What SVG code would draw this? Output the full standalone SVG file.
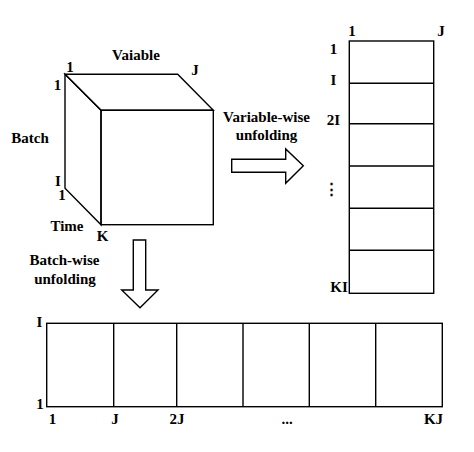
<svg xmlns="http://www.w3.org/2000/svg" width="474" height="452" viewBox="0 0 474 452">
<style>
.l{fill:none;stroke:#000;stroke-width:1.4;stroke-linejoin:miter}
text{font-family:"Liberation Serif","Times New Roman",serif;font-weight:bold;font-size:15px;fill:#000}
.m{text-anchor:middle}
</style>
<rect width="474" height="452" fill="#fff"/>
<g id="cube">
<polygon class="l" points="65,74.3 177.7,74.3 213.3,110.3 101,110.3"/>
<polygon class="l" points="65,74.3 101,110.3 101,224.7 65,188.3"/>
<rect class="l" x="101" y="110.3" width="112.3" height="114.4"/>
<text class="m" x="136" y="60">Vaiable</text>
<text class="m" x="70" y="71.5">1</text>
<text class="m" x="195" y="75">J</text>
<text class="m" x="57.5" y="90">1</text>
<text class="m" x="30" y="143">Batch</text>
<text class="m" x="58" y="185.5">I</text>
<text class="m" x="62" y="200">1</text>
<text class="m" x="67" y="230.5">Time</text>
<text class="m" x="102.5" y="240.5">K</text>
</g>
<g id="variable-wise">
<rect class="l" x="349.3" y="41" width="84.4" height="252.3"/>
<path class="l" d="M349.3 83.3H433.7M349.3 123.7H433.7M349.3 166H433.7M349.3 208.3H433.7M349.3 250.3H433.7"/>
<text class="m" x="352" y="35.5">1</text>
<text class="m" x="441" y="35.5">J</text>
<text class="m" x="333.5" y="53.5">1</text>
<text class="m" x="333.5" y="85">I</text>
<text class="m" x="333.5" y="125">2I</text>
<text class="m" x="331.5" y="194">⋮</text>
<text class="m" x="339" y="291.5">KI</text>
</g>
<g id="batch-wise">
<rect class="l" x="46.7" y="323.3" width="395.6" height="83.4"/>
<path class="l" d="M113.7 323.3V406.7M176.7 323.3V406.7M243 323.3V406.7M309.3 323.3V406.7M375.7 323.3V406.7"/>
<text class="m" x="39.5" y="327">I</text>
<text class="m" x="40" y="408.5">1</text>
<text class="m" x="52.5" y="424">1</text>
<text class="m" x="115" y="424">J</text>
<text class="m" x="177" y="424">2J</text>
<text class="m" x="287" y="424">...</text>
<text class="m" x="433.5" y="424">KJ</text>
</g>
<g id="connectors">
<polygon class="l" points="231.7,159.3 285.7,159.3 285.7,149 303.3,165.8 285.7,183.3 285.7,172.3 231.7,172.3"/>
<text class="m" x="266.5" y="121.5">Variable-wise</text>
<text class="m" x="266.5" y="140">unfolding</text>
<polygon class="l" points="133.3,240 145.7,240 145.7,290 158,290 140,307.7 121.7,290 133.3,290"/>
<text class="m" x="64.5" y="265">Batch-wise</text>
<text class="m" x="65" y="283.5">unfolding</text>
</g>
</svg>
